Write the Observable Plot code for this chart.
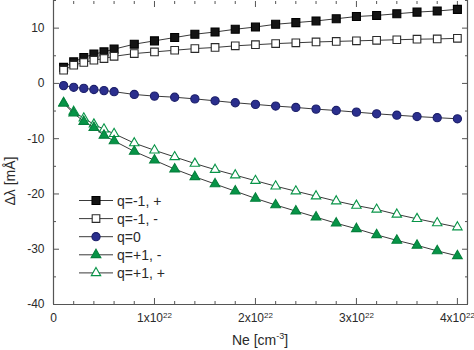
<!DOCTYPE html>
<html><head><meta charset="utf-8">
<script src="https://cdn.jsdelivr.net/npm/d3@7"></script>
<script src="https://cdn.jsdelivr.net/npm/@observablehq/plot@0.6"></script>
<style>
body{margin:0;background:#fff;}
#chart{position:relative;width:474px;height:350px;}
</style></head><body><div id="chart"></div>
<script>
// Electron density Ne in units of 10^22 cm^-3
const ne = [0.1,0.2,0.3,0.4,0.5,0.6,0.8,1.0,1.2,1.4,1.6,1.8,2.0,2.2,2.4,2.6,2.8,3.0,3.2,3.4,3.6,3.8,4.0];
// Δλ [mÅ] for each series
const qm1Plus  = [2.9,3.9,4.7,5.3,5.7,6.2,7.1,7.7,8.3,8.9,9.3,9.8,10.2,10.7,11.0,11.3,11.7,12.1,12.3,12.6,12.9,13.1,13.4];
const qm1Minus = [2.4,3.3,3.8,4.2,4.5,4.9,5.4,5.7,6.0,6.3,6.5,6.8,7.0,7.2,7.35,7.5,7.6,7.7,7.8,7.9,8.0,8.05,8.15];
const q0       = [-0.4,-0.7,-0.9,-1.1,-1.3,-1.5,-2.0,-2.3,-2.5,-2.8,-3.15,-3.5,-3.8,-4.1,-4.35,-4.65,-4.9,-5.2,-5.5,-5.75,-6.0,-6.2,-6.4];
const qp1Minus = [-3.6,-5.4,-6.9,-8.0,-9.4,-10.4,-12.3,-13.9,-15.5,-16.9,-18.2,-19.5,-20.8,-22.0,-23.1,-24.2,-25.3,-26.3,-27.4,-28.4,-29.3,-30.3,-31.2];
const qp1Plus  = [-3.5,-5.1,-6.3,-7.4,-8.3,-9.1,-10.8,-12.1,-13.3,-14.5,-15.6,-16.6,-17.6,-18.6,-19.5,-20.4,-21.3,-22.1,-22.8,-23.7,-24.5,-25.25,-26.0];

const seriesNames = ["q=-1, +","q=-1, -","q=0","q=+1, -","q=+1, +"];
const xMajor = [0,1,2,3,4];
const xMinor = [0.2,0.4,0.6,0.8,1.2,1.4,1.6,1.8,2.2,2.4,2.6,2.8,3.2,3.4,3.6,3.8];
const yMajor = [-40,-30,-20,-10,0,10];
const yMinor = [-35,-25,-15,-5,5,15];
const xLabelBase = "Ne [cm";
const xLabelSup = "-3";
const yLabel = "Δλ [mÅ]";

// styles (kept separate from data)
const styles = [
  {symbol:"square",   fill:"#141414", stroke:"#000",    r:4.5},
  {symbol:"square",   fill:"#ffffff", stroke:"#2a2a2a", r:4.3},
  {symbol:"circle",   fill:"#2b2f8e", stroke:"#1d206a", r:4.1},
  {symbol:"triangle", fill:"#079447", stroke:"#05803c", r:3.6},
  {symbol:"triangle", fill:"#ffffff", stroke:"#079447", r:3.5}
];
const seriesValues = [qm1Plus, qm1Minus, q0, qp1Minus, qp1Plus];
const rows = vals => ne.map((x,i) => ({x, y: vals[i]}));
const drawOrder = [0,1,2,4,3];

const axisColor = "#555";
const A = {label:null, tickFormat:()=>"", stroke:axisColor};
const marks = [];
marks.push(
  Plot.axisX(xMajor, {...A, anchor:"bottom", tickSize:6, dy:-6}),
  Plot.axisX(xMinor, {...A, anchor:"bottom", tickSize:3, dy:-3}),
  Plot.axisX(xMajor, {...A, anchor:"top", tickSize:6, dy:6}),
  Plot.axisX(xMinor, {...A, anchor:"top", tickSize:3, dy:3}),
  Plot.axisY(yMajor, {...A, anchor:"left", tickSize:6, dx:6}),
  Plot.axisY(yMinor, {...A, anchor:"left", tickSize:3, dx:3}),
  Plot.axisY(yMajor, {...A, anchor:"right", tickSize:6, dx:-6}),
  Plot.axisY(yMinor, {...A, anchor:"right", tickSize:3, dx:-3}),
  Plot.axisX(xMajor, {anchor:"bottom", label:null, tickSize:0, tickPadding:9, tickFormat:d => d===0 ? "0" : `${d}x10^22`, fill:"#2a2a2a", fontSize:12}),
  Plot.axisY(yMajor, {anchor:"left", label:null, tickSize:0, tickPadding:9, tickFormat:d => `${d}`, fill:"#2a2a2a", fontSize:12}),
  Plot.ruleX([0], {stroke:axisColor, strokeWidth:1.2}),
  Plot.ruleX([4.1], {stroke:axisColor, strokeWidth:1.2}),
  Plot.ruleY([-40], {stroke:axisColor, strokeWidth:1.2})
);
for (const i of drawOrder) {
  const s = styles[i];
  marks.push(Plot.line(rows(seriesValues[i]), {x:"x", y:"y", stroke:"#3a3a3a", strokeWidth:1}));
  marks.push(Plot.dot(rows(seriesValues[i]), {x:"x", y:"y", symbol:s.symbol, r:s.r, fill:s.fill, stroke:s.stroke, strokeWidth:1.1}));
}

const svgEl = Plot.plot({
  width:474, height:350,
  marginLeft:53, marginRight:7, marginTop:0, marginBottom:46,
  style:{fontFamily:"'Liberation Sans', Arial, sans-serif", fontSize:"12px", background:"#fff", color:"#2a2a2a"},
  x:{domain:[0,4.1], label:null},
  y:{domain:[-40,15], label:null},
  marks
});
document.getElementById("chart").appendChild(svgEl);

const svg = d3.select(svgEl);
svg.selectAll("text").each(function(){
  const t = this.textContent;
  if (t.includes("^")) {
    const [base, sup] = t.split("^");
    const sel = d3.select(this);
    sel.text(null);
    sel.append("tspan").text(base);
    sel.append("tspan").attr("font-size", "8px").attr("dy", "-0.55em").text(sup);
  }
});

const font = "'Liberation Sans', Arial, sans-serif";
const xt = svg.append("text").attr("x", 260).attr("y", 345).attr("text-anchor","middle")
  .attr("font-family", font).attr("font-size", 14).attr("fill","#2a2a2a");
xt.append("tspan").text(xLabelBase);
xt.append("tspan").attr("font-size", 9).attr("dy", -6).text(xLabelSup);
xt.append("tspan").attr("dy", 6).text("]");
svg.append("text").attr("transform","translate(15,181) rotate(-90)").attr("text-anchor","middle")
  .attr("font-family", font).attr("font-size", 14).attr("fill","#2a2a2a").text(yLabel);

const lg = svg.append("g").attr("text-anchor","start");
seriesNames.forEach((name, i) => {
  const s = styles[i];
  const yy = 200.5 + i * 18.1;
  lg.append("line").attr("x1",79).attr("x2",113).attr("y1",yy).attr("y2",yy).attr("stroke","#3a3a3a").attr("stroke-width",1);
  const symType = s.symbol === "square" ? d3.symbolSquare : s.symbol === "circle" ? d3.symbolCircle : d3.symbolTriangle;
  lg.append("path").attr("d", d3.symbol(symType, Math.PI * s.r * s.r)())
    .attr("transform", `translate(96,${yy})`).attr("fill", s.fill).attr("stroke", s.stroke).attr("stroke-width",1.1);
  lg.append("text").attr("x",117).attr("y",yy + 5).attr("text-anchor","start").attr("font-family",font).attr("font-size",14).attr("fill","#2a2a2a").text(name);
});
</script></body></html>
